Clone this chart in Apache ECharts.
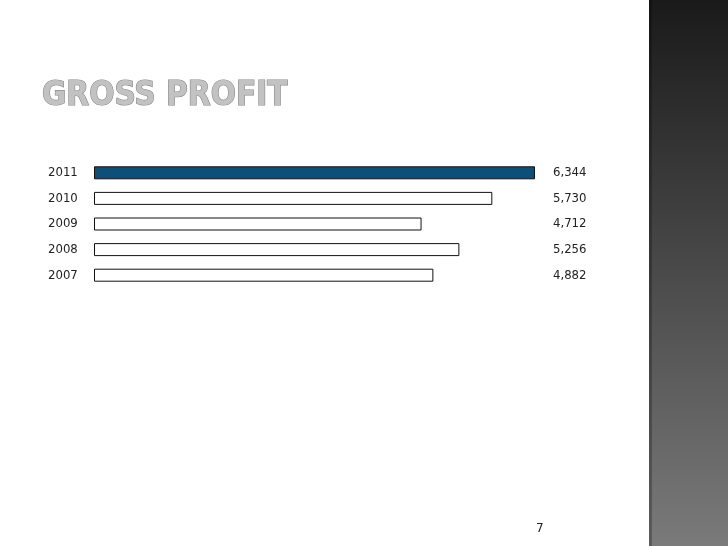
<!DOCTYPE html>
<html><head><meta charset="utf-8">
<script src="https://cdn.jsdelivr.net/npm/echarts@6/dist/echarts.min.js"></script>
<style>html,body{margin:0;padding:0;background:#fff}#c{width:728px;height:546px}</style>
</head><body><div id="c"></div>
<script>
const years = ['2011','2010','2009','2008','2007'];
const grossProfit = [6344, 5730, 4712, 5256, 4882];
const titleText = 'GROSS PROFIT';
const pageNumber = '7';

const fmt = v => v.toLocaleString('en-US');
const chart = echarts.init(document.getElementById('c'), null, {renderer:'canvas'});
chart.setOption({
  backgroundColor: '#ffffff',
  animation: false,
  title: {text: titleText, left: 37, top: 75, padding: 5,
    textStyle: {fontFamily:'DejaVu Sans Condensed', fontWeight:'bold', fontSize:33, color:'#c2c2c2',
      textBorderColor:'#8a8a8a', textBorderWidth:1.2}},
  grid: {left: 94, top: 160, width: 441, height: 128},
  xAxis: {type:'value', min:0, max:6344, show:false},
  yAxis: [
    {type:'category', data: years, inverse:true, axisLine:{show:false}, axisTick:{show:false},
     axisLabel:{align:'left', margin:46, color:'#222', fontFamily:'DejaVu Sans Condensed', fontSize:13}},
    {type:'category', data: grossProfit.map(fmt), inverse:true, position:'right', axisLine:{show:false}, axisTick:{show:false},
     axisLabel:{align:'left', margin:18, color:'#222', fontFamily:'DejaVu Sans Condensed', fontSize:13}}
  ],
  series: [{
    type:'bar', data: grossProfit.map((v,i)=>({value:v, itemStyle: i===0 ? {color:'#0d4f78', borderColor:'#111', borderWidth:1} : {color:'#fff', borderColor:'#111', borderWidth:1}})),
    barWidth: 13
  }],
  graphic: [
    {type:'rect', shape:{x:649, y:0, width:79, height:546}, z:-1,
     style:{fill:new echarts.graphic.LinearGradient(0,0,0,1,[{offset:0,color:'#1a1a1a'},{offset:1,color:'#7a7a7a'}])}},
    {type:'rect', shape:{x:649, y:0, width:3, height:546}, z:0, style:{fill:'rgba(0,0,0,0.25)'}},
    {type:'text', left:536, top:523, style:{text:pageNumber, font:'12px "DejaVu Sans"', fill:'#222'}}
  ]
});
</script></body></html>
